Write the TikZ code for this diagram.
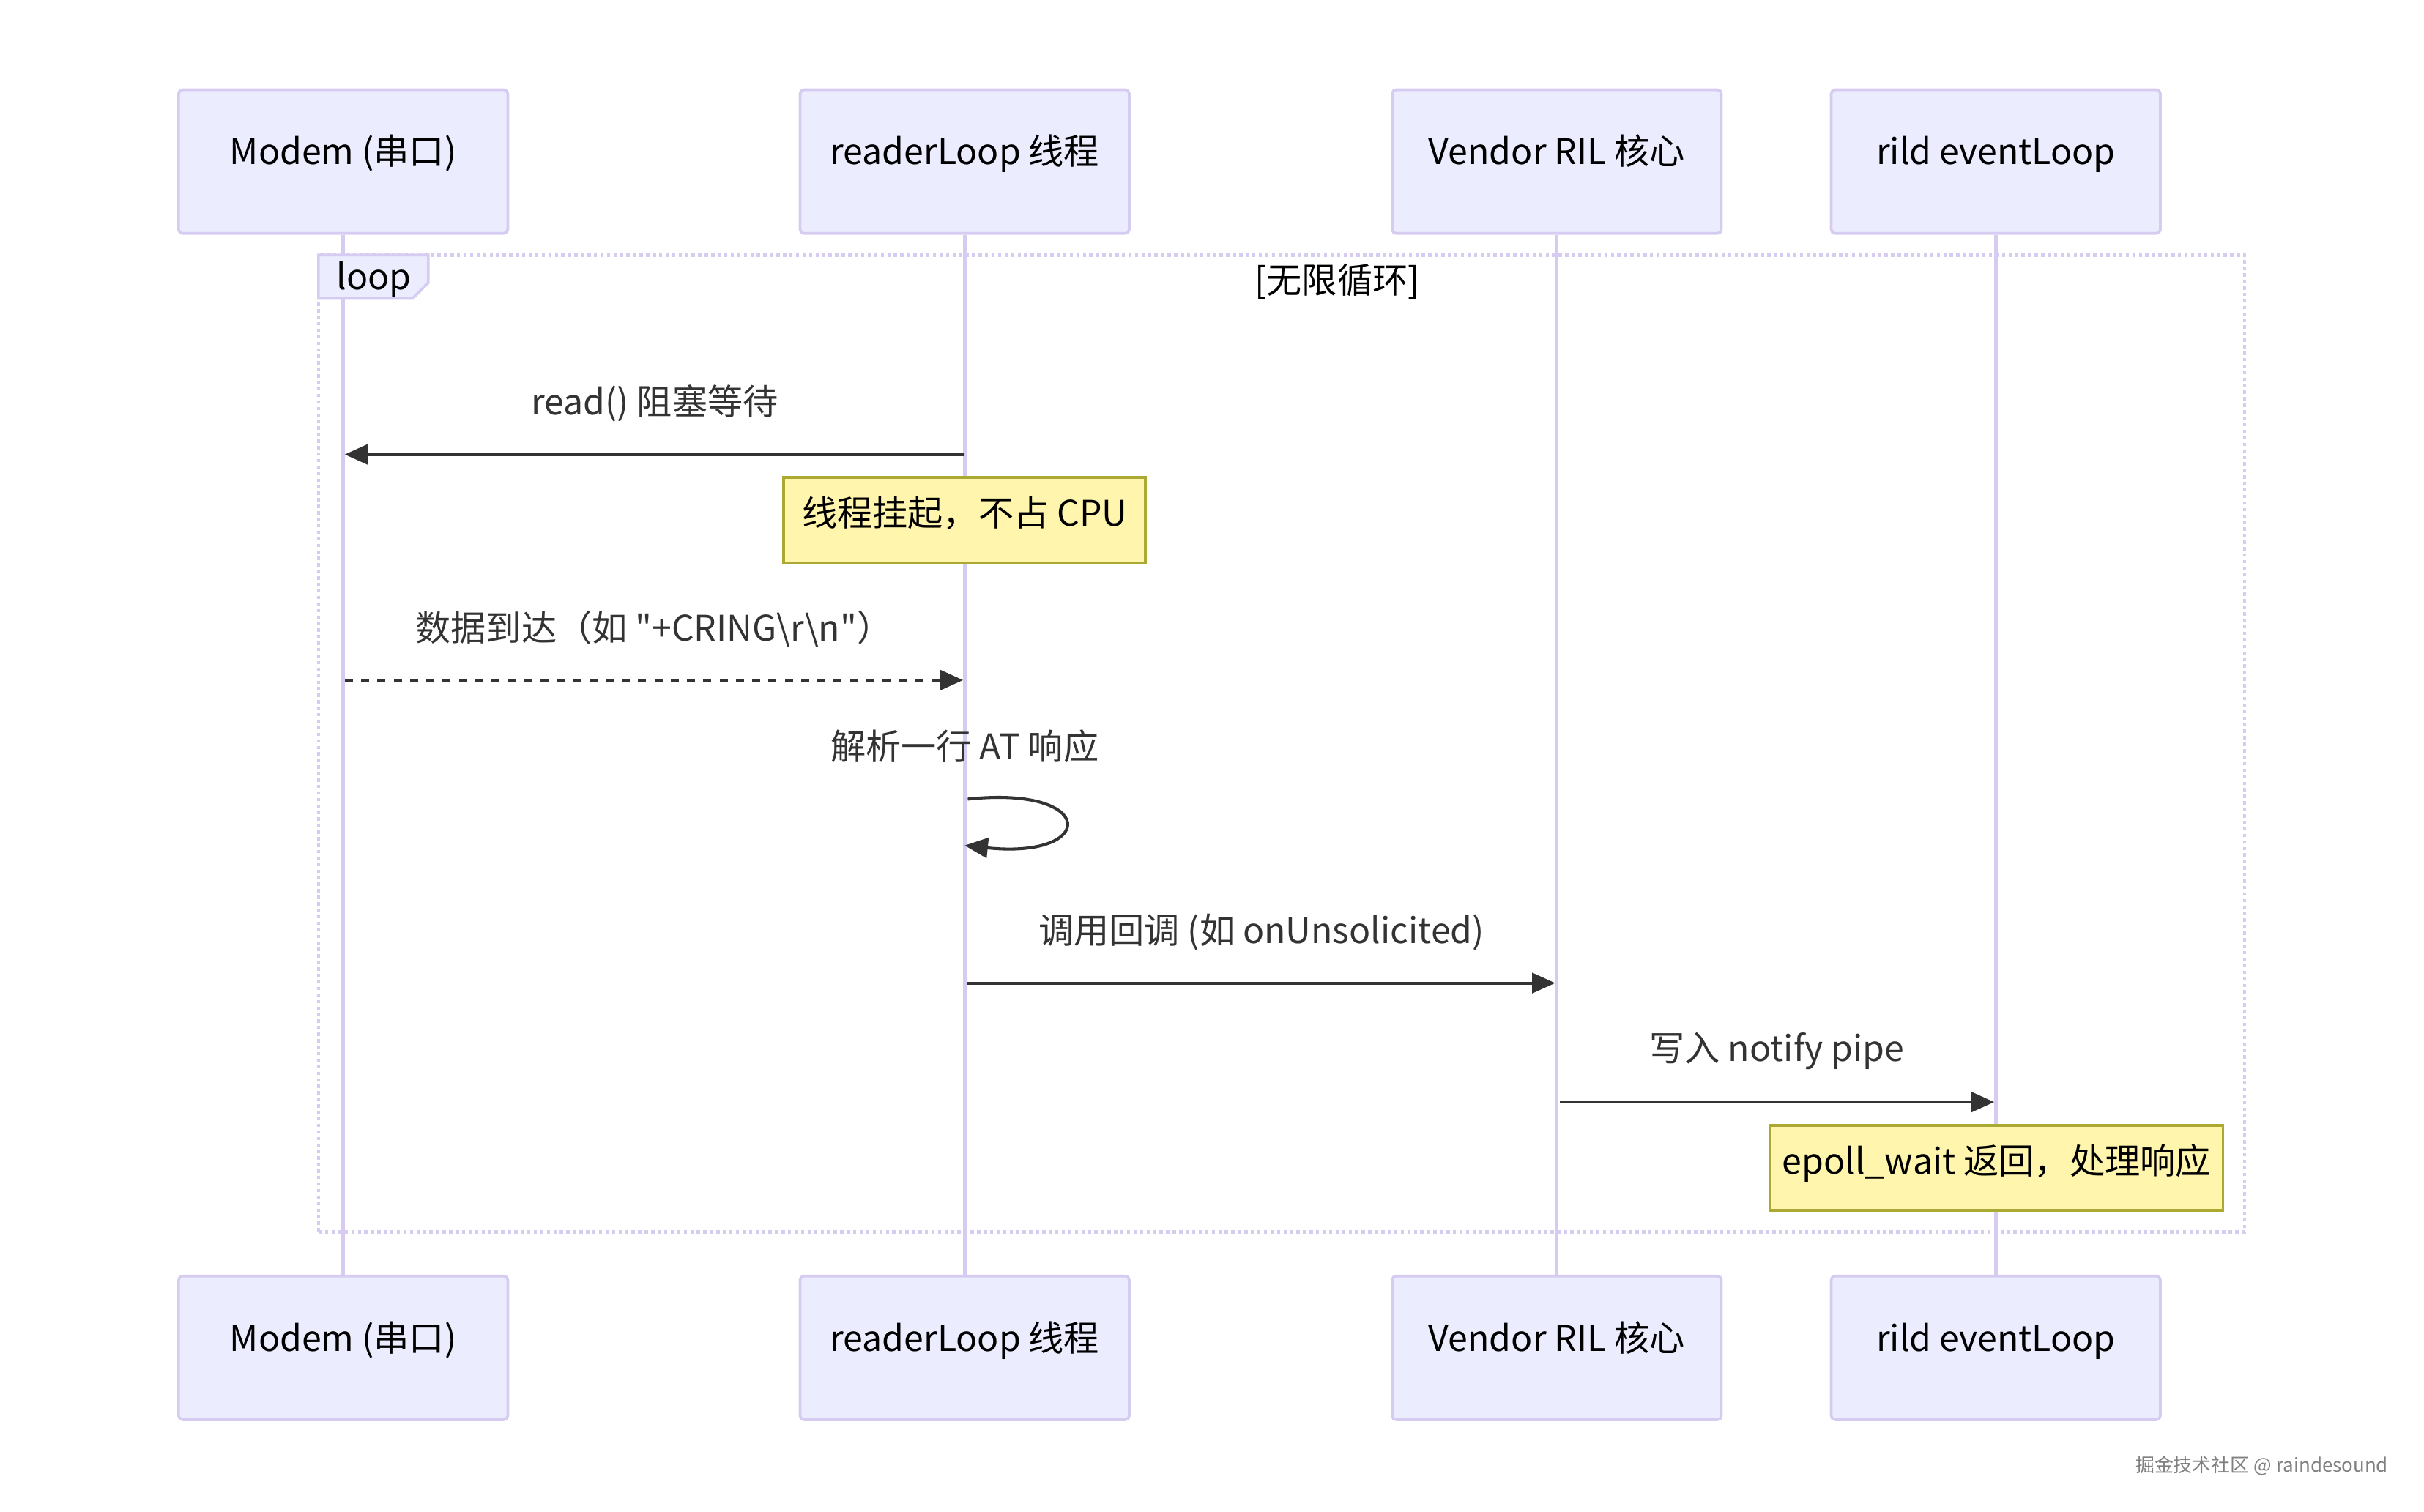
\documentclass[tikz,border=0pt]{standalone}
\usepackage{fontspec}
\setmainfont{Noto Sans CJK SC}[Ligatures=TeXOff]
\usetikzlibrary{arrows.meta, positioning}
\definecolor{actorfill}{HTML}{ECECFF}
\definecolor{actorline}{HTML}{D6CCF2}
\definecolor{notefill}{HTML}{FFF5AD}
\definecolor{noteline}{HTML}{AAAA33}
\definecolor{msgline}{HTML}{333333}
\newcommand{\seqfont}{\fontsize{13}{16}\selectfont}

\begin{document}
\begin{tikzpicture}
        [
        x=0.02cm, y=-0.02cm,
        actor/.style={draw=actorline, fill=actorfill, line width=1pt, rounded corners=1.5pt, minimum width=4.26cm, minimum height=1.86cm, text height=0.4cm, text depth=0.32cm, font=\seqfont},
        lifeline/.style={draw=actorline, line width=1.4pt},
        frame/.style={draw=actorline, line width=1.2pt, dash pattern=on 1.2pt off 1.2pt, minimum width=24.92cm, minimum height=12.64cm},
        note/.style={draw=noteline, fill=notefill, line width=1pt, minimum height=1.1cm, text height=0.4cm, text depth=0.24cm, font=\seqfont},
        msg/.style={-{Triangle[length=0.3cm, width=0.26cm]}, draw=msgline, line width=1.1pt},
        reply/.style={msg, dash pattern=on 3pt off 3pt},
        msglabel/.style={text=msgline, font=\seqfont, inner sep=0pt}
        ]

        \useasboundingbox (0,0) rectangle (1568,978);

        \node[frame] (loop) at (829,481) {};

        \node[actor] (modem) at (222,104.5) {Modem (串口)};
        \node[actor] (reader) at (624,104.5) {readerLoop 线程};
        \node[actor] (vendor) at (1007,104.5) {Vendor RIL 核心};
        \node[actor] (rild) at (1291,104.5) {rild eventLoop};

        \node[actor] (modem2) at (222,872) {Modem (串口)};
        \node[actor] (reader2) at (624,872) {readerLoop 线程};
        \node[actor] (vendor2) at (1007,872) {Vendor RIL 核心};
        \node[actor] (rild2) at (1291,872) {rild eventLoop};

        \draw[lifeline] (modem) -- (modem2);
        \draw[lifeline] (reader) -- (reader2);
        \draw[lifeline] (vendor) -- (vendor2);
        \draw[lifeline] (rild) -- (rild2);

        \draw[draw=actorline, fill=actorfill, line width=1pt] (206,165) -- (277,165) -- (277,183) -- (267,193) -- (206,193) -- cycle;
        \node[font=\seqfont] (looptag) at (242,181) {loop};
        \node[font=\seqfont] (loopcond) at (865,182) {[无限循环]};

        \coordinate (readA) at (624,294);
        \coordinate (modemA) at (223,294);
        \coordinate (modemB) at (223,440);
        \coordinate (readB) at (623,440);
        \coordinate (selfA) at (626,517);
        \coordinate (selfB) at (624,547);
        \coordinate (readC) at (626,636);
        \coordinate (vendC) at (1006,636);
        \coordinate (vendD) at (1009,713);
        \coordinate (rildD) at (1290,713);

        \draw[msg] (readA) -- node[msglabel, above=0.4cm] {read() 阻塞等待} (modemA);
        \node[note, minimum width=4.68cm] (suspend) at (624,336.5) {线程挂起，不占 CPU};
        \draw[reply] (modemB) -- node[msglabel, above=0.4cm] {数据到达（如 "+CRING\textbackslash r\textbackslash n"）} (readB);
        \node[msglabel] (parse) at (624,483) {解析一行 AT 响应};
        \draw[msg] (selfA) .. controls (710,508) and (710,556) .. (selfB);
        \draw[msg] (readC) -- node[msglabel, above=0.4cm] {调用回调 (如 onUnsolicited)} (vendC);
        \draw[msg] (vendD) -- node[msglabel, above=0.4cm] {写入 notify pipe} (rildD);
        \node[note, minimum width=5.86cm] (epoll) at (1291.5,755.5) {epoll\_wait 返回，处理响应};

        \node[text=gray, font=\fontsize{7}{8}\selectfont, anchor=east] (mark) at (1551,948) {掘金技术社区 @ raindesound};
    \end{tikzpicture}
\end{document}
